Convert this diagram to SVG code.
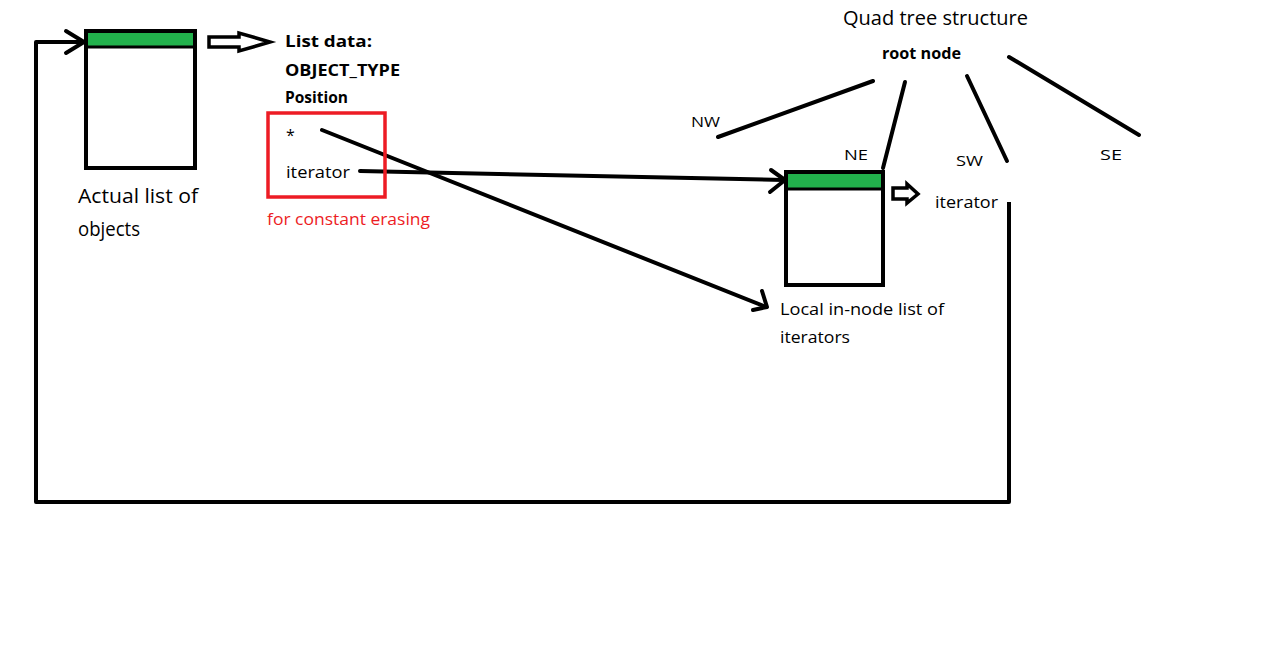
<svg xmlns="http://www.w3.org/2000/svg" width="1280" height="669" viewBox="0 0 1280 669">
<style>
text{font-family:"Comic Sans MS","Open Sans","DejaVu Sans",sans-serif;fill:#000}
.b{font-weight:bold;font-size:16px}
.n{font-size:16px}
.l{font-size:20px}
.s{font-size:15px}
.red{fill:#ED1C24}
.ln{stroke:#000;stroke-width:4;fill:none;stroke-linecap:round;stroke-linejoin:round}
.box{fill:#fff;stroke:#000;stroke-width:4}
.green{fill:#22B14C}
.hollow{fill:#fff;stroke:#000;stroke-width:3.5;stroke-linejoin:miter}
</style>
<rect width="1280" height="669" fill="#fff"/>
<g id="connectors">
<polyline class="ln" points="1009,202 1009,502 36,502 36,42 82,42" style="stroke-linecap:butt"/>
<polyline class="ln" points="66,31 84,42 66,53"/>
<line class="ln" x1="360" y1="171" x2="784" y2="180"/>
<polyline class="ln" points="771,170 785,180 770,192"/>
<line class="ln" x1="322" y1="130" x2="766" y2="307"/>
<polyline class="ln" points="762,291 767,307 753,310"/>
<line class="ln" x1="873" y1="81" x2="718" y2="137"/>
<line class="ln" x1="905" y1="82" x2="883" y2="168"/>
<line class="ln" x1="967" y1="76" x2="1007" y2="161"/>
<line class="ln" x1="1009" y1="57" x2="1139" y2="135"/>
</g>
<g id="actual-list">
<rect class="box" x="86" y="31" width="109" height="137"/>
<rect class="green" x="88" y="33" width="105" height="13"/>
<line x1="86" y1="47" x2="195" y2="47" stroke="#000" stroke-width="3"/>
<text class="l" x="78" y="203" textLength="120" lengthAdjust="spacingAndGlyphs">Actual list of</text>
<text class="l" x="78" y="236" textLength="62" lengthAdjust="spacingAndGlyphs">objects</text>
</g>
<g id="arrow-list-data">
<polygon class="hollow" points="209,37 239,37 239,33 270,42 239,51 239,47 209,47"/>
</g>
<g id="list-data">
<text class="b" x="285" y="47" textLength="87" lengthAdjust="spacingAndGlyphs">List data:</text>
<text class="b" x="285" y="76" textLength="115" lengthAdjust="spacingAndGlyphs">OBJECT_TYPE</text>
<text class="b" x="285" y="103" textLength="63" lengthAdjust="spacingAndGlyphs">Position</text>
</g>
<g id="erase-box">
<rect x="268" y="113" width="117" height="84" fill="none" stroke="#ED1C24" stroke-width="3.5"/>
<text class="n" x="286" y="141">*</text>
<text class="n" x="286" y="178" textLength="64" lengthAdjust="spacingAndGlyphs">iterator</text>
<text class="n red" x="267" y="225" textLength="163" lengthAdjust="spacingAndGlyphs">for constant erasing</text>
</g>
<g id="local-list">
<rect class="box" x="786" y="172" width="97" height="113"/>
<rect class="green" x="788" y="174" width="93" height="14"/>
<line x1="786" y1="189" x2="883" y2="189" stroke="#000" stroke-width="3"/>
<text class="n" x="780" y="315" textLength="164" lengthAdjust="spacingAndGlyphs">Local in-node list of</text>
<text class="n" x="780" y="343" textLength="70" lengthAdjust="spacingAndGlyphs">iterators</text>
</g>
<g id="arrow-iterator">
<polygon class="hollow" points="893,188 907,188 907,184 918,194 907,203 907,199 893,199"/>
<text class="n" x="935" y="208" textLength="63" lengthAdjust="spacingAndGlyphs">iterator</text>
</g>
<g id="quad-tree">
<text class="l" x="843" y="25" textLength="185" lengthAdjust="spacingAndGlyphs">Quad tree structure</text>
<text class="b" x="882" y="59" textLength="79" lengthAdjust="spacingAndGlyphs">root node</text>
<text class="s" x="691" y="127" textLength="29" lengthAdjust="spacingAndGlyphs">NW</text>
<text class="s" x="844" y="160" textLength="24" lengthAdjust="spacingAndGlyphs">NE</text>
<text class="s" x="956" y="166" textLength="27" lengthAdjust="spacingAndGlyphs">SW</text>
<text class="s" x="1100" y="160" textLength="22" lengthAdjust="spacingAndGlyphs">SE</text>
</g>
</svg>
